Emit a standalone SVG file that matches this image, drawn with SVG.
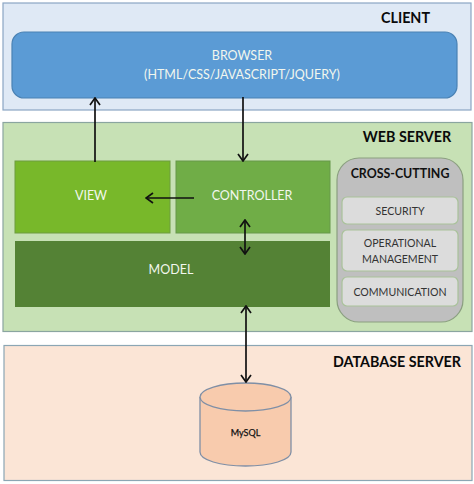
<svg xmlns="http://www.w3.org/2000/svg" width="474" height="484" viewBox="0 0 474 484">
<style>
text{font-family:"Lato","Open Sans","Liberation Sans",sans-serif;text-anchor:middle}
.w{fill:#f2f7ee;font-size:12.500px}
.h{fill:#0a0a0a;font-size:14.300px;font-weight:700}
.s{fill:#333;font-size:10.600px}
.b{fill:#dcdcdc;stroke:#a9c29a;stroke-width:1.2}
.c{fill:none;stroke:#111;stroke-width:1.7}
.tier{stroke-width:1.2}
</style>
<defs>
<marker id="a" viewBox="0 0 10 12" refX="9" refY="6" markerWidth="10" markerHeight="12" markerUnits="userSpaceOnUse" orient="auto-start-reverse"><path d="M2 1L9 6L2 11" fill="none" stroke="#111" stroke-width="1.7"/></marker>
</defs>
<rect width="474" height="484" fill="#fff"/>
<g id="client"><rect class="tier" x="3" y="3" width="468" height="107" fill="#dfe9f5" stroke="#8ba6c4"/><text class="h" x="405.500" y="23">CLIENT</text></g>
<g id="browser"><rect x="12" y="32" width="445" height="66" rx="12" fill="#5b9bd5" stroke="#4a82b4" stroke-width="1.2"/><text class="w" x="242" y="59.500">BROWSER</text><text class="w" x="242" y="79">(HTML/CSS/JAVASCRIPT/JQUERY)</text></g>
<g id="web-server"><rect class="tier" x="3" y="122.500" width="469" height="209" fill="#c7e1b5" stroke="#8aa5a0"/><text class="h" x="407" y="142">WEB SERVER</text></g>
<g id="view"><rect x="15" y="161" width="155" height="72" fill="#78b82a" stroke="#6d9c3f"/><text class="w" x="91" y="200">VIEW</text></g>
<g id="controller"><rect x="176" y="161" width="154" height="72" fill="#70ad47" stroke="#66984a"/><text class="w" x="252" y="200">CONTROLLER</text></g>
<g id="model"><rect x="15" y="241" width="315" height="66" fill="#548235"/><text class="w" x="171" y="273.500">MODEL</text></g>
<g id="cross-cutting"><rect x="337" y="158" width="126" height="164" rx="22" fill="#bfbfbf" stroke="#8b9f80" stroke-width="1.2"/><text x="400" y="178" style="fill:#111;font-size:12.400px;font-weight:700">CROSS-CUTTING</text></g>
<g id="security"><rect class="b" x="342" y="197" width="116" height="27" rx="5"/><text class="s" x="400" y="214.500">SECURITY</text></g>
<g id="operational-management"><rect class="b" x="342" y="230" width="116" height="41" rx="5"/><text class="s" x="400" y="247">OPERATIONAL</text><text class="s" x="400" y="263">MANAGEMENT</text></g>
<g id="communication"><rect class="b" x="342" y="277" width="116" height="29" rx="5"/><text class="s" x="400" y="296">COMMUNICATION</text></g>
<g id="database-server"><rect class="tier" x="4" y="345.500" width="468" height="135" fill="#fbe5d6" stroke="#8ba6b4"/><text class="h" x="397" y="367">DATABASE SERVER</text></g>
<g id="mysql"><path d="M200 397V452C200 460 220 466 245.500 466S291 460 291 452V397" fill="#f8cbad" stroke="#7f8fa6" stroke-width="1.300"/><ellipse cx="245.500" cy="397" rx="45.500" ry="14" fill="#f8cbad" stroke="#7f8fa6" stroke-width="1.300"/><text x="245.500" y="435.500" style="fill:#111;font-size:9px;stroke:#111;stroke-width:.25">MySQL</text></g>
<g id="connectors">
<path class="c" d="M95 162V98" marker-end="url(#a)"/>
<path class="c" d="M243 97V161" marker-end="url(#a)"/>
<path class="c" d="M194 198H146" marker-end="url(#a)"/>
<path class="c" d="M245 220V254" marker-start="url(#a)" marker-end="url(#a)"/>
<path class="c" d="M246 306V382" marker-start="url(#a)" marker-end="url(#a)"/>
</g>
</svg>
